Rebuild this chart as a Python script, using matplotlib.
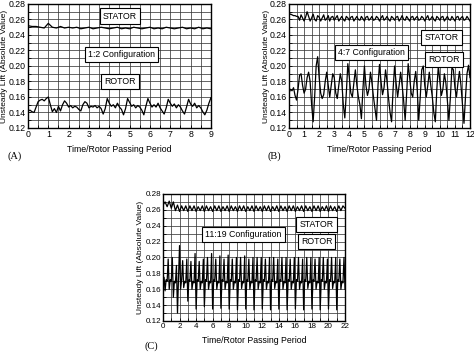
import numpy as np
import matplotlib.pyplot as plt
from matplotlib.ticker import MultipleLocator, FormatStrFormatter

plt.rcParams['font.family'] = ['Liberation Sans', 'DejaVu Sans']

# -------------------- data --------------------
# (A) 1:2 configuration
dt_a_stator = 0.2
a_stator = [0.252, 0.251, 0.251, 0.250, 0.249, 0.255, 0.250, 0.249, 0.251, 0.249,
            0.250, 0.249, 0.250, 0.248, 0.249, 0.250, 0.248, 0.249, 0.250, 0.249,
            0.248, 0.249, 0.250, 0.248, 0.249, 0.248, 0.250, 0.249, 0.248, 0.249,
            0.250, 0.248, 0.249, 0.248, 0.250, 0.249, 0.248, 0.249, 0.250, 0.248,
            0.249, 0.248, 0.250, 0.248, 0.249, 0.248]
dt_a_rotor = 0.1
a_rotor = [0.142, 0.143, 0.141, 0.140, 0.147, 0.154, 0.156, 0.157, 0.155, 0.158,
           0.160, 0.150, 0.141, 0.145, 0.140, 0.148, 0.142, 0.150, 0.155, 0.152,
           0.147, 0.149, 0.146, 0.148, 0.147, 0.144, 0.142, 0.150, 0.154, 0.152,
           0.146, 0.148, 0.147, 0.149, 0.146, 0.148, 0.145, 0.138, 0.145, 0.158,
           0.152, 0.148, 0.150, 0.146, 0.152, 0.147, 0.144, 0.137, 0.145, 0.158,
           0.153, 0.148, 0.150, 0.146, 0.149, 0.147, 0.143, 0.137, 0.148, 0.158,
           0.152, 0.147, 0.150, 0.147, 0.152, 0.146, 0.142, 0.138, 0.146, 0.157,
           0.152, 0.148, 0.151, 0.146, 0.150, 0.147, 0.142, 0.138, 0.147, 0.157,
           0.151, 0.148, 0.152, 0.146, 0.149, 0.146, 0.141, 0.137, 0.143, 0.152,
           0.159]

# (B) 4:7 configuration
dt_b = 0.1
b_stator = [0.266, 0.267, 0.266, 0.265, 0.265, 0.264, 0.264, 0.259, 0.266, 0.262,
            0.258, 0.263, 0.270, 0.264, 0.258, 0.262, 0.267, 0.260, 0.258, 0.265,
            0.263, 0.258, 0.262, 0.266, 0.259, 0.261, 0.265, 0.258, 0.263, 0.264,
            0.259, 0.262, 0.265, 0.258, 0.261, 0.264, 0.260, 0.258, 0.264, 0.262,
            0.259, 0.263, 0.264, 0.258, 0.261, 0.264, 0.260, 0.259, 0.264, 0.261,
            0.258, 0.263, 0.264, 0.259, 0.261, 0.264, 0.259, 0.260, 0.264, 0.262,
            0.258, 0.262, 0.265, 0.259, 0.261, 0.264, 0.260, 0.258, 0.264, 0.262,
            0.259, 0.263, 0.264, 0.258, 0.261, 0.265, 0.260, 0.259, 0.264, 0.261,
            0.258, 0.263, 0.264, 0.259, 0.262, 0.264, 0.259, 0.260, 0.264, 0.262,
            0.258, 0.262, 0.265, 0.259, 0.261, 0.264, 0.260, 0.258, 0.264, 0.262,
            0.259, 0.263, 0.264, 0.258, 0.261, 0.264, 0.260, 0.259, 0.264, 0.261,
            0.258, 0.263, 0.264, 0.259, 0.262, 0.264, 0.259, 0.260, 0.264, 0.261,
            0.258]
b_rotor = [0.165, 0.170, 0.168, 0.172, 0.162, 0.156, 0.170, 0.188, 0.190, 0.175,
           0.165, 0.170, 0.185, 0.192, 0.180, 0.150, 0.128, 0.160, 0.200, 0.212,
           0.185, 0.165, 0.158, 0.163, 0.180, 0.192, 0.175, 0.160, 0.175, 0.190,
           0.185, 0.165, 0.158, 0.175, 0.190, 0.180, 0.150, 0.133, 0.165, 0.203,
           0.185, 0.165, 0.160, 0.178, 0.195, 0.175, 0.160, 0.150, 0.132, 0.170,
           0.200, 0.175, 0.162, 0.170, 0.192, 0.178, 0.160, 0.145, 0.130, 0.175,
           0.202, 0.180, 0.163, 0.172, 0.195, 0.180, 0.158, 0.140, 0.128, 0.170,
           0.200, 0.178, 0.160, 0.175, 0.192, 0.175, 0.155, 0.130, 0.165, 0.203,
           0.185, 0.165, 0.160, 0.180, 0.193, 0.170, 0.130, 0.160, 0.195, 0.200,
           0.175, 0.160, 0.175, 0.192, 0.175, 0.160, 0.140, 0.128, 0.170, 0.200,
           0.180, 0.162, 0.170, 0.190, 0.178, 0.155, 0.130, 0.160, 0.198, 0.195,
           0.172, 0.160, 0.178, 0.193, 0.175, 0.150, 0.126, 0.160, 0.190, 0.201,
           0.185]

# (C) 11:19 configuration
dt_c_stator = 0.25
c_stator = [0.266, 0.270, 0.264, 0.271, 0.262, 0.270, 0.259, 0.266, 0.258, 0.265,
            0.259, 0.265, 0.258, 0.265, 0.259, 0.265, 0.258, 0.264, 0.259, 0.265,
            0.258, 0.265, 0.259, 0.264, 0.258, 0.265, 0.259, 0.265, 0.258, 0.264,
            0.259, 0.265, 0.258, 0.265, 0.259, 0.264, 0.258, 0.265, 0.259, 0.265,
            0.258, 0.264, 0.259, 0.265, 0.258, 0.265, 0.259, 0.264, 0.258, 0.265,
            0.259, 0.265, 0.258, 0.264, 0.259, 0.265, 0.258, 0.265, 0.259, 0.264,
            0.258, 0.265, 0.259, 0.265, 0.258, 0.264, 0.259, 0.265, 0.258, 0.265,
            0.259, 0.264, 0.258, 0.265, 0.259, 0.265, 0.258, 0.264, 0.259, 0.265,
            0.258, 0.265, 0.259, 0.264, 0.258, 0.265, 0.259, 0.265, 0.262]
dt_c_rotor = 0.125
c_rotor = [0.165, 0.175, 0.158, 0.172, 0.170, 0.198, 0.160, 0.172,
           0.170, 0.200, 0.150, 0.170, 0.168, 0.190, 0.130, 0.175,
           0.215, 0.160, 0.172, 0.196, 0.162, 0.170, 0.168, 0.198,
           0.145, 0.172, 0.170, 0.195, 0.160, 0.170, 0.168, 0.205,
           0.135, 0.172, 0.170, 0.195, 0.160, 0.170, 0.168, 0.198,
           0.138, 0.172, 0.170, 0.200, 0.160, 0.170, 0.168, 0.205,
           0.135, 0.172, 0.170, 0.198, 0.160, 0.170, 0.168, 0.202,
           0.136, 0.172, 0.170, 0.198, 0.160, 0.170, 0.168, 0.203,
           0.135, 0.172, 0.170, 0.198, 0.160, 0.170, 0.168, 0.200,
           0.134, 0.172, 0.170, 0.200, 0.161, 0.170, 0.168, 0.202,
           0.135, 0.172, 0.170, 0.198, 0.160, 0.170, 0.168, 0.200,
           0.134, 0.172, 0.170, 0.200, 0.160, 0.170, 0.168, 0.200,
           0.135, 0.172, 0.170, 0.198, 0.160, 0.170, 0.168, 0.200,
           0.134, 0.172, 0.170, 0.200, 0.161, 0.170, 0.168, 0.198,
           0.135, 0.172, 0.170, 0.200, 0.160, 0.170, 0.168, 0.200,
           0.134, 0.172, 0.170, 0.198, 0.160, 0.170, 0.168, 0.200,
           0.135, 0.172, 0.170, 0.200, 0.160, 0.170, 0.168, 0.198,
           0.134, 0.172, 0.170, 0.200, 0.161, 0.170, 0.168, 0.200,
           0.135, 0.172, 0.170, 0.198, 0.160, 0.170, 0.168, 0.200,
           0.134, 0.172, 0.170, 0.200, 0.160, 0.170, 0.168, 0.198,
           0.135, 0.172, 0.170, 0.200, 0.161, 0.170, 0.168, 0.200,
           0.134, 0.172, 0.170, 0.198, 0.160, 0.170, 0.168, 0.200,
           0.160]

panels = [
    dict(rect=[0.059, 0.6374, 0.386, 0.3513], xmax=9, xmaj=1, xmin=0.5,
         series=[(a_stator, dt_a_stator), (a_rotor, dt_a_rotor)],
         boxes=[('STATOR', 4.53, 0.2645), ('1:2 Configuration', 4.58, 0.2148),
                ('ROTOR', 4.53, 0.180)],
         ylab_x=-0.128, ticksize=6.3, tag='(A)', tag_xy=(0.015, 0.545)),
    dict(rect=[0.6097, 0.6374, 0.3819, 0.3513], xmax=12, xmaj=1, xmin=0.5,
         series=[(b_stator, dt_b), (b_rotor, dt_b)],
         boxes=[('STATOR', 10.11, 0.2368), ('4:7 Configuration', 5.44, 0.2174),
                ('ROTOR', 10.28, 0.2084)],
         ylab_x=-0.127, ticksize=6.3, tag='(B)', tag_xy=(0.565, 0.545)),
    dict(rect=[0.3439, 0.0907, 0.384, 0.3598], xmax=22, xmaj=2, xmin=1,
         series=[(c_stator, dt_c_stator), (c_rotor, dt_c_rotor)],
         boxes=[('STATOR', 18.56, 0.2416), ('11:19 Configuration', 9.73, 0.2284),
                ('ROTOR', 18.56, 0.2202)],
         ylab_x=-0.122, ticksize=5.8, tag='(C)', tag_xy=(0.305, 0.005)),
]

fig = plt.figure(figsize=(4.74, 3.53), dpi=100)

for p in panels:
    ax = fig.add_axes(p['rect'])
    for vals, dt in p['series']:
        t = np.arange(len(vals)) * dt
        ax.plot(t, vals, color='black', lw=0.9)
    ax.set_xlim(0, p['xmax'])
    ax.set_ylim(0.12, 0.28)
    ax.xaxis.set_major_locator(MultipleLocator(p['xmaj']))
    ax.xaxis.set_minor_locator(MultipleLocator(p['xmin']))
    ax.yaxis.set_major_locator(MultipleLocator(0.02))
    ax.yaxis.set_minor_locator(MultipleLocator(0.01))
    ax.yaxis.set_major_formatter(FormatStrFormatter('%.2f'))
    ax.grid(True, which='both', color='#3a3a3a', lw=0.55)
    ax.set_axisbelow(True)
    ax.tick_params(which='both', direction='in', length=2, width=0.6,
                   labelsize=p['ticksize'], pad=1.5)
    for s in ax.spines.values():
        s.set_linewidth(1.0)
    ax.set_xlabel('Time/Rotor Passing Period', fontsize=6.3, labelpad=4)
    ax.set_ylabel('Unsteady Lift (Absolute Value)', fontsize=6, va='center')
    ax.yaxis.set_label_coords(p['ylab_x'], 0.5)
    for txt, x, y in p['boxes']:
        ax.text(x, y, txt, fontsize=6.3, ha='center', va='center',
                bbox=dict(boxstyle='square,pad=0.35', fc='white', ec='black', lw=0.8))
    fig.text(p['tag_xy'][0], p['tag_xy'][1], p['tag'], fontsize=7.5,
             family=['Liberation Serif', 'DejaVu Serif'], ha='left', va='bottom')

plt.savefig('out.png', dpi=100)
